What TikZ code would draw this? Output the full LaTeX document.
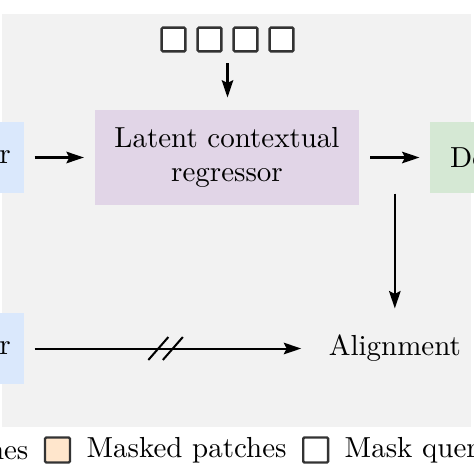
\documentclass[tikz,border=0pt]{standalone}
\usepackage{tikz}
\usetikzlibrary{positioning,calc,arrows.meta}
\definecolor{encoderBG}{HTML}{DAE8FC}
\definecolor{regressorBG}{HTML}{E1D5E7}
\definecolor{decoderBG}{HTML}{D5E8D4}
\definecolor{maskedBG}{HTML}{FFE6CC}
\definecolor{panelBG}{HTML}{F2F2F2}
\definecolor{queryBorder}{HTML}{333333}

\begin{document}
\begin{tikzpicture}[
  x=0.345pt, y=-0.345pt,
  node distance=41pt and 24pt,
  block/.style={minimum height=24.5pt, inner ysep=0pt},
  sidebox/.style={block, text width=36pt},
  qsq/.style={draw=queryBorder, line width=0.8pt, rounded corners=0.4pt, minimum size=8.2pt,
    inner sep=0pt, fill=white},
  arr/.style={-{Stealth[length=6pt, width=4pt, inset=1pt]}, line width=0.7pt,
    shorten <=3.5pt, shorten >=3.5pt},
]
  \useasboundingbox (0,0) rectangle (474,474);
  \clip (0,0) rectangle (474,474);
  \fill[panelBG] (2,14) rectangle (471,427);

  \node[fill=regressorBG, minimum width=91.4pt, minimum height=32.8pt, align=center] (reg)
    at (227,157.5) {Latent contextual\\regressor};
  \node[sidebox, fill=encoderBG, align=right, inner xsep=4.5pt, left=of reg] (cenc) {r};
  \node[sidebox, fill=decoderBG, align=left, inner xsep=6.9pt, right=of reg] (dec) {De};
  \node[sidebox, fill=encoderBG, align=right, inner xsep=4.5pt, below=of cenc] (tenc) {r};

  % mask queries
  \foreach \i in {0,...,3}
    \node[qsq] (q\i) at (173.5+36*\i, 39.5) {};
  \coordinate (qmid) at ($(q1.south)!0.5!(q2.south)$);

  \coordinate (gap) at ($(reg.east)!0.5!(dec.west)$);
  \coordinate (split) at (gap |- dec.south);
  \node (align) at (split |- tenc) {Alignment};

  \draw[arr, shorten <=3.7pt, shorten >=4.1pt] (qmid) -- (qmid |- reg.north);
  \draw[arr] (cenc) -- (reg);
  \draw[arr] (reg) -- (dec);
  \draw[arr, shorten <=0pt, shorten >=5.7pt] (split) -- (align);
  \draw[arr, shorten >=6pt] (tenc) -- (align) coordinate[pos=0.48] (sg);
  % stop-gradient
  \draw[line width=0.7pt] ([xshift=-2.5pt]sg) +(-3.45pt,-3.95pt) -- +(3.45pt,3.95pt);
  \draw[line width=0.7pt] ([xshift=2.5pt]sg) +(-3.45pt,-3.95pt) -- +(3.45pt,3.95pt);

  % legend
  \node[qsq, fill=maskedBG, minimum size=8.6pt] (lmask) at (57.5,450) {};
  \node[left=1.8pt of lmask] (lvis) {hes};
  \node[right=1.8pt of lmask] (lmasktxt) {Masked patches};
  \node[qsq, minimum size=8.6pt, right=1.8pt of lmasktxt] (lquery) {};
  \node[right=1.8pt of lquery] (lquerytxt) {Mask quer};
\end{tikzpicture}
\end{document}
